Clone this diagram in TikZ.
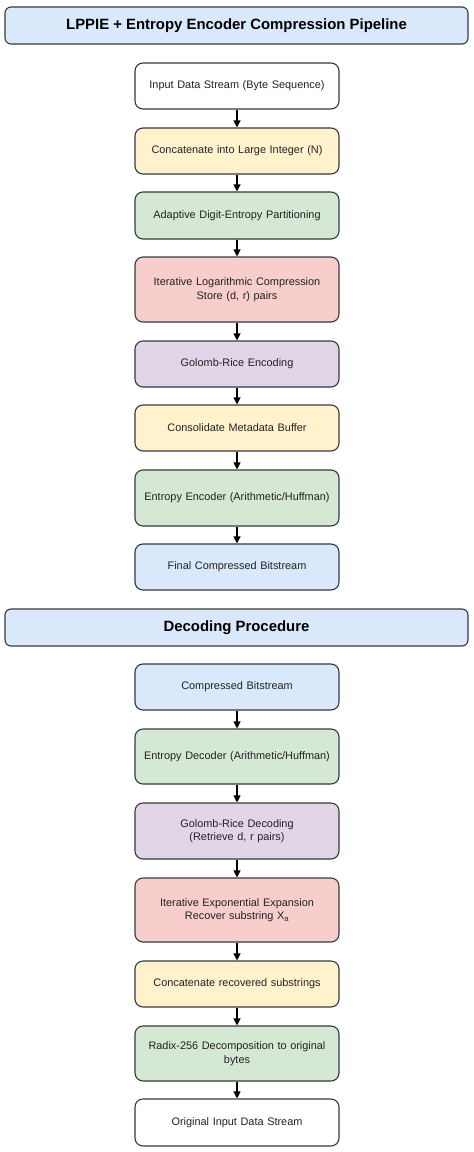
\documentclass[tikz,border=0pt]{standalone}
\usepackage{fontspec}
\setmainfont{Liberation Sans}
\usetikzlibrary{arrows.meta}
\definecolor{cblue}{HTML}{DAE8FC}
\definecolor{cyellow}{HTML}{FFF2CC}
\definecolor{cgreen}{HTML}{D5E8D4}
\definecolor{cred}{HTML}{F8CECC}
\definecolor{cpurple}{HTML}{E1D5E7}
\definecolor{cwhite}{HTML}{FFFFFF}
\definecolor{cborder}{HTML}{36393D}
\definecolor{ctext}{HTML}{222222}
\begin{document}
\begin{tikzpicture}[x=1pt,y=-1pt,
  stepbox/.style={draw=cborder, line width=1.1pt, rounded corners=8pt, minimum width=204pt, text width=198pt, align=center, inner sep=0pt, font=\fontsize{10.9}{13.5}\selectfont, text=ctext},
  titlebox/.style={draw=cborder, line width=1.1pt, rounded corners=6pt, fill=cblue, minimum width=463pt, minimum height=37pt, inner sep=0pt, font=\fontsize{14.9}{17}\selectfont\bfseries, text=black},
  arr/.style={-{Triangle[length=7pt,width=7pt]}, line width=1.1pt, draw=black}
]
\useasboundingbox (0,0) rectangle (474,1152);
\fill[white] (0,0) rectangle (474,1152);
\node[titlebox] (t1) at (236.5,25.5) {LPPIE + Entropy Encoder Compression Pipeline};
\node[stepbox, fill=cwhite, minimum height=46pt] (b1) at (237,86) {Input Data Stream (Byte Sequence)};
\node[stepbox, fill=cyellow, minimum height=46pt] (b2) at (237,151) {Concatenate into Large Integer (N)};
\node[stepbox, fill=cgreen, minimum height=47pt] (b3) at (237,215.5) {Adaptive Digit-Entropy Partitioning};
\node[stepbox, fill=cred, minimum height=65pt] (b4) at (237,289.5) {Iterative Logarithmic Compression\\Store (d, r) pairs};
\node[stepbox, fill=cpurple, minimum height=46pt] (b5) at (237,364) {Golomb-Rice Encoding};
\node[stepbox, fill=cyellow, minimum height=46pt] (b6) at (237,428) {Consolidate Metadata Buffer};
\node[stepbox, fill=cgreen, minimum height=56pt] (b7) at (237,498) {Entropy Encoder (Arithmetic/Huffman)};
\node[stepbox, fill=cblue, minimum height=46pt] (b8) at (237,567) {Final Compressed Bitstream};
\node[titlebox] (t2) at (236.5,627.5) {Decoding Procedure};
\node[stepbox, fill=cblue, minimum height=46pt] (b9) at (237,687) {Compressed Bitstream};
\node[stepbox, fill=cgreen, minimum height=55pt] (b10) at (237,756.5) {Entropy Decoder (Arithmetic/Huffman)};
\node[stepbox, fill=cpurple, minimum height=56pt] (b11) at (237,831) {Golomb-Rice Decoding\\(Retrieve d, r pairs)};
\node[stepbox, fill=cred, minimum height=64pt] (b12) at (237,910) {Iterative Exponential Expansion\\Recover substring X\textsubscript{a}};
\node[stepbox, fill=cyellow, minimum height=46pt] (b13) at (237,984) {Concatenate recovered substrings};
\node[stepbox, fill=cgreen, minimum height=55pt] (b14) at (237,1053.5) {Radix-256 Decomposition to original\\bytes};
\node[stepbox, fill=cwhite, minimum height=47pt] (b15) at (237,1122.5) {Original Input Data Stream};
\foreach \a/\b in {b1/b2,b2/b3,b3/b4,b4/b5,b5/b6,b6/b7,b7/b8,b9/b10,b10/b11,b11/b12,b12/b13,b13/b14,b14/b15}
  \draw[arr] (\a.south) -- (\b.north);
\end{tikzpicture}
\end{document}
